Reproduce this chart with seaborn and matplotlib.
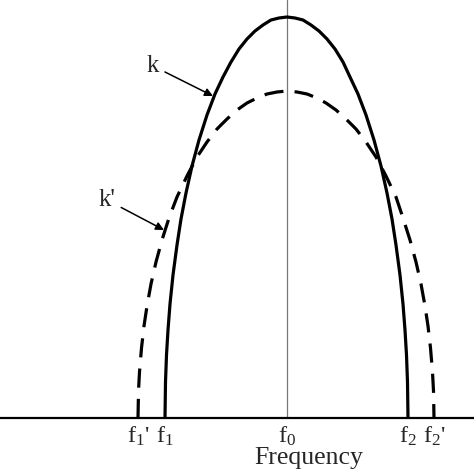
import matplotlib
matplotlib.use("Agg")
import matplotlib.pyplot as plt
import pandas as pd
import seaborn as sns

# Frequency offsets from f0 and curve heights (pixel-like units)
K_FREQ = [-122, -121.5, -120.5, -119, -117, -114, -110, -106, -101, -95, -88, -80, -72,
          -64, -56, -48, -40, -32, -24, -16, -8, 0,
          8, 16, 24, 32, 40, 48, 56, 63, 71, 79, 87, 94, 100, 105, 109, 113, 116,
          118, 119.5, 120.5, 121]
K_VALUE = [0, 36, 63, 88, 114, 143, 173, 199, 225, 252, 278, 303, 324,
           341, 356, 369, 379, 387, 393, 398, 400, 401,
           400, 398, 393, 387, 379, 369, 356, 341, 324, 303, 278, 252, 225, 199, 173, 143, 114,
           88, 63, 36, 0]

K2_FREQ = [-149, -148.5, -147.5, -145.5, -143, -140, -136, -131, -125, -118, -110, -100,
           -90, -80, -70, -60, -50, -40, -30, -20, -10, 0,
           10, 20, 30, 39, 49, 59, 69, 79, 89, 99, 109, 116, 123, 129, 134, 138, 141,
           143.5, 145.5, 146.5, 147]
K2_VALUE = [0, 27, 46, 70, 92, 112, 134, 156, 178, 200, 221, 242,
            261, 276, 289, 299, 308, 315, 320, 324, 326, 327,
            326, 324, 320, 315, 308, 299, 289, 276, 261, 242, 221, 200, 178, 156, 134, 112, 92,
            70, 46, 27, 0]

TICK_POS = [-149, -122, 0, 121, 147]
TICK_LABELS = [r"$\mathrm{f}_1$'", r"$\mathrm{f}_1$", r"$\mathrm{f}_0$",
               r"$\mathrm{f}_2$", r"$\mathrm{f}_2$'"]

sns.set_style("white")
plt.rcParams["font.family"] = ["Liberation Serif", "DejaVu Serif"]
plt.rcParams["mathtext.fontset"] = "custom"
plt.rcParams["mathtext.rm"] = "Liberation Serif"
plt.rcParams["mathtext.it"] = "Liberation Serif:italic"

df_k = pd.DataFrame({"freq": K_FREQ, "value": K_VALUE})
df_k2 = pd.DataFrame({"freq": K2_FREQ, "value": K2_VALUE})

fig = plt.figure(figsize=(4.74, 4.74), dpi=100)
ax = fig.add_axes([0, 56 / 474, 1, 418 / 474])

# thin centre line at f0
ax.axvline(0, color="#777777", lw=0.9, zorder=1)

sns.lineplot(data=df_k, x="freq", y="value", sort=False, color="black", lw=2.3, ax=ax)
sns.lineplot(data=df_k2, x="freq", y="value", sort=False, color="black", lw=2.3,
             linestyle=(0, (6, 3.5)), ax=ax)

ax.set_xlim(-287, 187)
ax.set_ylim(0, 418)

for side in ["left", "top", "right"]:
    ax.spines[side].set_visible(False)
ax.spines["bottom"].set_linewidth(1.6)
ax.spines["bottom"].set_color("black")

ax.set_yticks([])
ax.set_xticks(TICK_POS)
ax.set_xticklabels(TICK_LABELS, fontsize=17.5)
ax.tick_params(axis="x", length=0, pad=5)
ax.set_xlabel("Frequency", fontsize=18.5, labelpad=-1)
ax.xaxis.label.set_x(309 / 474)
ax.set_ylabel("")

arrow = dict(arrowstyle="-|>", color="black", lw=1.1, mutation_scale=12,
             shrinkA=2, shrinkB=0)
ax.annotate("k", xy=(213 - 287, 418 - 96), xytext=(153 - 287, 418 - 66),
            fontsize=18, ha="center", va="center", arrowprops=arrow)
ax.annotate("k'", xy=(164 - 287, 418 - 230), xytext=(107 - 287, 418 - 200),
            fontsize=18, ha="center", va="center", arrowprops=arrow)

fig.savefig("out.png", dpi=100)
